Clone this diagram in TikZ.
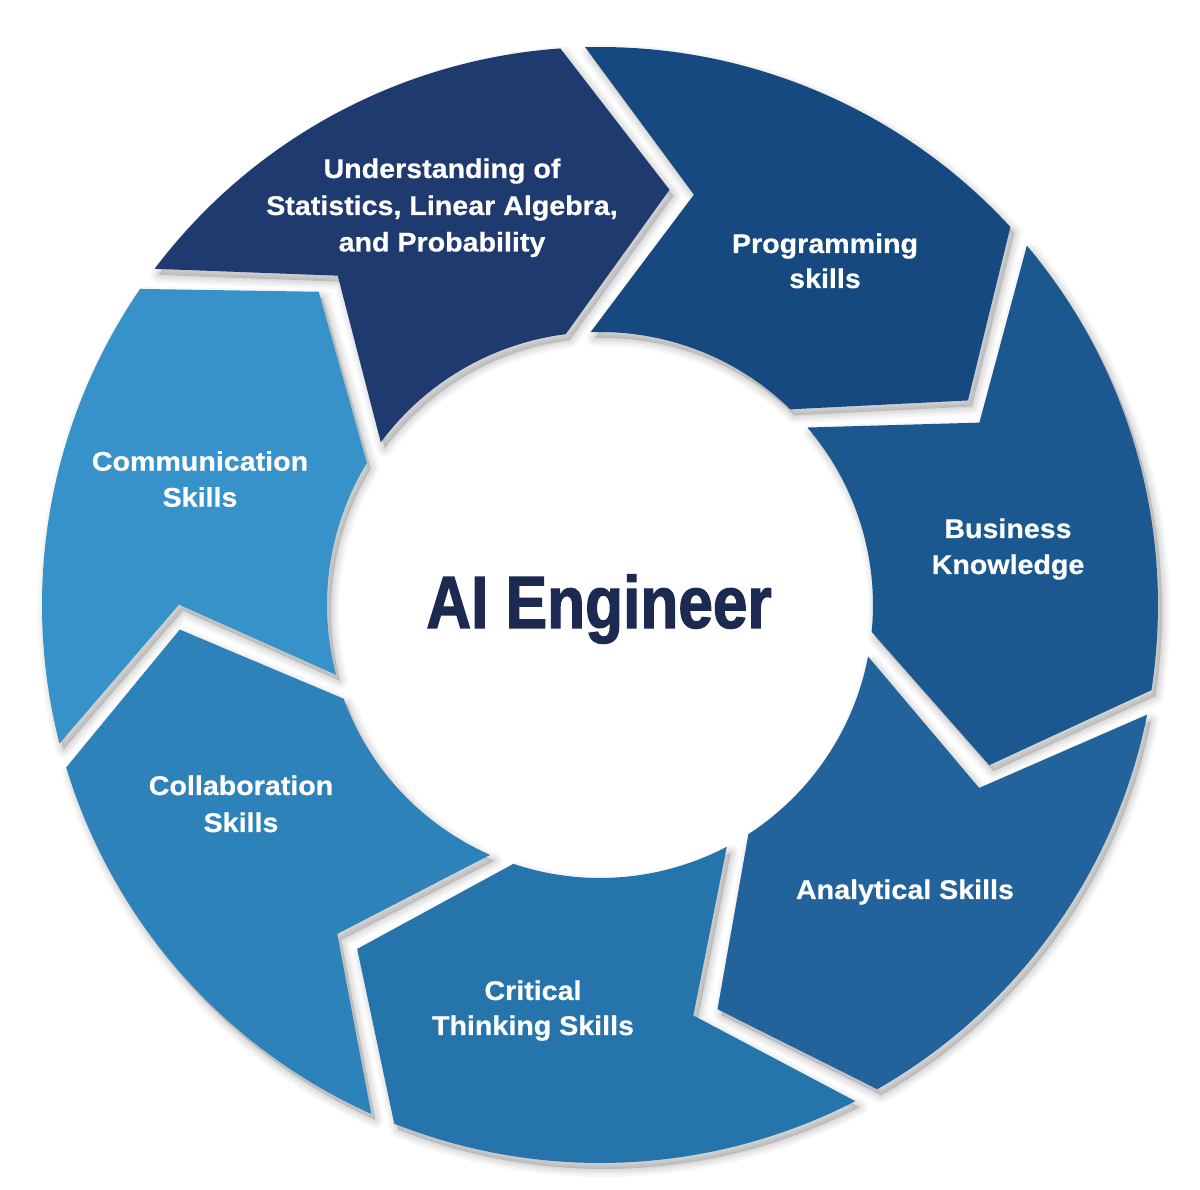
\documentclass[tikz,border=0pt]{standalone}
\usepackage{fontspec}
\newfontfamily\lblfont{Liberation Sans}[FakeStretch=1.06,FakeBold=0.6]
\newfontfamily\ttlfont{Liberation Sans}[FakeStretch=0.84,FakeBold=1.6]
\definecolor{cU}{HTML}{1F3A6E}
\definecolor{cP}{HTML}{164980}
\definecolor{cB}{HTML}{1B588F}
\definecolor{cA}{HTML}{23639B}
\definecolor{cC}{HTML}{2674AC}
\definecolor{cL}{HTML}{2E82BA}
\definecolor{cM}{HTML}{3692C8}
\definecolor{cT}{HTML}{1C2A52}
\newcommand{\segpath}{({\aT-1.28}:558) arc[start angle={\aT-1.28}, end angle={\aL+1.28}, radius=558]
  -- ({\aL-12.3}:421) -- ({\aL+4.42}:273)
  arc[start angle={\aL+4.42}, end angle={\aT-0.82}, radius=273]
  -- ({\aT-15.7}:421) -- cycle}
\begin{document}
\begin{tikzpicture}[x=1pt,y=1pt,
  lbl/.style={text=white, font=\lblfont\bfseries\fontsize{27}{36}\selectfont, anchor=base, inner sep=0pt},
  ttl/.style={text=cT, font=\ttlfont\bfseries\fontsize{74}{80}\selectfont, anchor=base, inner sep=0pt},
  shd/.style={fill=black, draw=black, line join=round, opacity=0.035}]
\useasboundingbox (-600,-585) rectangle (600,605);
\fill[white] (-600,-585) rectangle (600,605);
% shadows
\foreach \k in {0,...,6} {
  \pgfmathsetmacro\aL{92.8-51.43*\k}
  \pgfmathsetmacro\aT{\aL+51.43}
  \foreach \w in {16,11,7,3} {
    \path[shd, line width=\w pt, shift={(4,-6)}] \segpath;
  }
}
% segments
\foreach \k/\col in {0/cU,1/cP,2/cB,3/cA,4/cC,5/cL,6/cM} {
  \pgfmathsetmacro\aL{92.8-51.43*\k}
  \pgfmathsetmacro\aT{\aL+51.43}
  \path[fill=\col] \segpath;
}
% labels
\node[lbl] (u1) at (-158,427) {Understanding of};
\node[lbl] (u2) at (-158,390) {Statistics, Linear Algebra,};
\node[lbl] (u3) at (-158,353.5) {and Probability};
\node[lbl] (p1) at (225,352) {Programming};
\node[lbl] (p2) at (225,317) {skills};
\node[lbl] (b1) at (408,67) {Business};
\node[lbl] (b2) at (408,31) {Knowledge};
\node[lbl] (a1) at (305,-294) {Analytical Skills};
\node[lbl] (c1) at (-67,-395) {Critical};
\node[lbl] (c2) at (-67,-430) {Thinking Skills};
\node[lbl] (l1) at (-359,-190) {Collaboration};
\node[lbl] (l2) at (-359,-227) {Skills};
\node[lbl] (m1) at (-400,134.3) {Communication};
\node[lbl] (m2) at (-400,98.3) {Skills};
\node[ttl] (title) at (-1,-23) {AI Engineer};
\end{tikzpicture}
\end{document}
